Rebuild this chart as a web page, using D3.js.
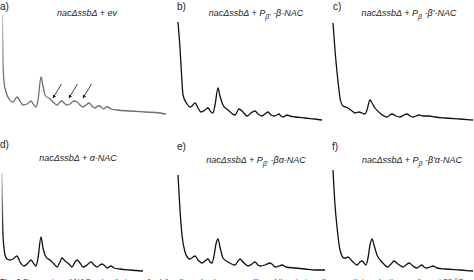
<!DOCTYPE html>
<html>
<head>
<meta charset="utf-8">
<script src="https://cdn.jsdelivr.net/npm/d3@7"></script>
<style>
  body { margin: 0; background: #fff; }
  svg { display: block; }
</style>
</head>
<body>
<div class="viz"></div>
<script>
// Sedimentation position (gradient units) and A254 (mAU) for each profile
var posA = [0.5,1,2,4,7,11,15,18,21,25,29,32,34,36,39,41,43,48,52,55,58,60,62,65,68,72,75,78,81,84,87,90,93,96,98,100,102,104,106,109,115,128,143,158,164];
var absA = [110,65,43,33,26,23,28,24,20,21,24,20,18,25,48,39,30,26,22,20,23,24,22,20,21,24,23,20,18,20,22,19,17,19,19,17,16,18,18,16,15,14,13,12,11];

var posB = [0,2,4,5,9,12,14,17,20,23,27,30,33,35,37,40,42,45,50,57,59,61,65,69,73,77,80,84,87,90,93,96,99,101,103,105,107,109,112,117,127,137,144];
var absB = [103,77,43,30,21,18,19,22,17,13,15,17,13,12,20,37,29,20,15,10,13,16,13,9,12,14,11,9,11,13,10,9,10,11,9,8,9,10,9,8,7,6,5];

var posC = [0,2,4,6,7,10,15,19,22,26,29,32,34,37,39,42,47,54,57,59,63,67,71,74,77,80,83,86,90,93,96,102,112,127,140];
var absC = [102,75,53,35,27,19,17,14,12,13,12,11,15,25,22,17,12,8,10,11,9,8,10,11,9,8,9,10,9,9,9,8,7,6,5];

var posD = [0,0.5,1,2,3,5,8,11,15,18,22,26,29,32,34,36,39,41,44,48,52,55,58,60,63,67,70,73,75,78,81,85,89,92,95,98,100,103,105,107,109,112,118,128,141];
var absD = [103,61,41,28,21,17,16,17,20,14,10,13,16,12,10,18,39,28,19,16,12,9,14,18,15,12,9,14,16,13,9,11,14,11,9,11,12,10,8,9,10,8,7,6,5];

var posE = [0,2,4,7,10,12,15,17,20,24,27,30,32,34,36,38,40,42,45,50,57,60,62,66,70,74,77,80,82,87,92,95,97,101,104,108,117,127,137,147];
var absE = [101,66,41,24,18,17,19,20,16,13,15,17,14,13,20,32,37,29,18,14,11,15,17,13,10,12,14,11,10,11,13,11,9,10,11,9,8,7,6,6];

var posF = [0,2,4,7,11,13,15,19,24,27,29,31,33,35,37,39,41,44,49,55,58,61,65,70,73,76,80,84,87,89,91,93,97,100,104,112,127,140];
var absF = [106,71,49,26,18,18,19,15,11,14,15,13,11,18,31,37,31,21,14,9,12,15,12,9,11,13,10,8,10,11,9,8,9,10,8,7,6,5];

// Arrows marking the extra peaks in panel a
var arrowPos = [51, 67, 81];
var arrowAbs = [27, 27, 27];

var labels = ['a)', 'b)', 'c)', 'd)', 'e)', 'f)'];
var plasmids = ['ev', "β'-β-NAC", "β-β'-NAC", 'α-NAC', "β'-βα-NAC", "β-β'α-NAC"];

var w = 474, h = 280;
var svg = d3.select('.viz').append('svg').attr('width', w).attr('height', h)
  .style('font-family', '"Liberation Sans", Arial, sans-serif');

var defs = svg.append('defs');
defs.append('marker').attr('id', 'head')
  .attr('viewBox', '0 0 10 10').attr('refX', 9).attr('refY', 5)
  .attr('markerWidth', 4.5).attr('markerHeight', 4.5).attr('orient', 'auto')
  .append('path').attr('d', 'M0,0L10,5L0,10z').attr('fill', '#111');

// grey fade at the top of the first column traces
var gA = defs.append('linearGradient').attr('id', 'fadeA').attr('gradientUnits', 'userSpaceOnUse')
  .attr('x1', 0).attr('x2', 0).attr('y1', 12).attr('y2', 80);
gA.append('stop').attr('offset', 0).attr('stop-color', '#d0d0d0');
gA.append('stop').attr('offset', 1).attr('stop-color', '#6e6e6e');
var gD = defs.append('linearGradient').attr('id', 'fadeD').attr('gradientUnits', 'userSpaceOnUse')
  .attr('x1', 0).attr('x2', 0).attr('y1', 172).attr('y2', 235);
gD.append('stop').attr('offset', 0).attr('stop-color', '#d8d8d8');
gD.append('stop').attr('offset', 1).attr('stop-color', '#111');

var panels = [
  {pos: posA, abs: absA, left: 2,   bottom: 125, stroke: 'url(#fadeA)', lx: 0,   ly: 10,  tx: 87,  ty: 16},
  {pos: posB, abs: absB, left: 178, bottom: 125, stroke: '#111',        lx: 177, ly: 10,  tx: 256, ty: 16},
  {pos: posC, abs: absC, left: 333, bottom: 125, stroke: '#111',        lx: 333, ly: 10,  tx: 409, ty: 16},
  {pos: posD, abs: absD, left: 2,   bottom: 276, stroke: 'url(#fadeD)', lx: 0,   ly: 148, tx: 78,  ty: 161},
  {pos: posE, abs: absE, left: 178, bottom: 276, stroke: '#111',        lx: 177, ly: 150, tx: 256, ty: 163},
  {pos: posF, abs: absF, left: 333, bottom: 276, stroke: '#111',        lx: 332, ly: 150, tx: 412, ty: 163}
];

panels.forEach(function(p, i) {
  var x = d3.scaleLinear().domain([0, 160]).range([p.left, p.left + 160]);
  var y = d3.scaleLinear().domain([0, 110]).range([p.bottom, p.bottom - 110]);
  var pts = p.pos.map(function(d, j) { return [d, p.abs[j]]; });

  var line = d3.line()
    .x(function(d) { return x(d[0]); })
    .y(function(d) { return y(d[1]); })
    .curve(d3.curveMonotoneX);

  svg.append('path').datum(pts)
    .attr('d', line)
    .attr('fill', 'none')
    .attr('stroke', p.stroke)
    .attr('stroke-width', 1.3)
    .attr('stroke-linejoin', 'round');

  svg.append('text').attr('x', p.lx).attr('y', p.ly)
    .attr('font-size', 10).attr('fill', '#222').text(labels[i]);

  // title: nacΔssbΔ + [P_promoter -]construct
  var t = svg.append('text').attr('x', p.tx).attr('y', p.ty)
    .attr('text-anchor', 'middle').attr('font-size', 9)
    .attr('font-style', 'italic').attr('fill', '#222');
  var pl = plasmids[i];
  if (pl.indexOf('-') > 0 && pl.charAt(0) === 'β') {
    var cut = pl.indexOf('-');
    t.append('tspan').text('nacΔssbΔ + P');
    t.append('tspan').attr('font-size', 7).attr('dy', 3).text(pl.slice(0, cut));
    t.append('tspan').attr('dy', -3).text(' -' + pl.slice(cut + 1));
  } else {
    t.text('nacΔssbΔ + ' + pl);
  }

  if (i === 0) {
    svg.selectAll('.arrow').data(arrowPos).enter().append('line')
      .attr('class', 'arrow')
      .attr('x1', function(d) { return x(d) + 8.5; })
      .attr('y1', function(d, j) { return y(arrowAbs[j]) - 14; })
      .attr('x2', function(d) { return x(d); })
      .attr('y2', function(d, j) { return y(arrowAbs[j]); })
      .attr('stroke', '#111').attr('stroke-width', 0.8)
      .attr('marker-end', 'url(#head)');
  }
});

// figure caption, cut off by the bottom edge
var cap = svg.append('text').attr('x', 0).attr('y', 283.5)
  .attr('font-size', 8).attr('fill', '#333');
cap.append('tspan').attr('font-weight', 'bold').text('Fig. 1 ');
cap.append('tspan').text('Expression of NAC subunits in nacΔssbΔ cells and polysome profiles of the strains after growth in selective medium at 30 °C');
</script>
</body>
</html>
